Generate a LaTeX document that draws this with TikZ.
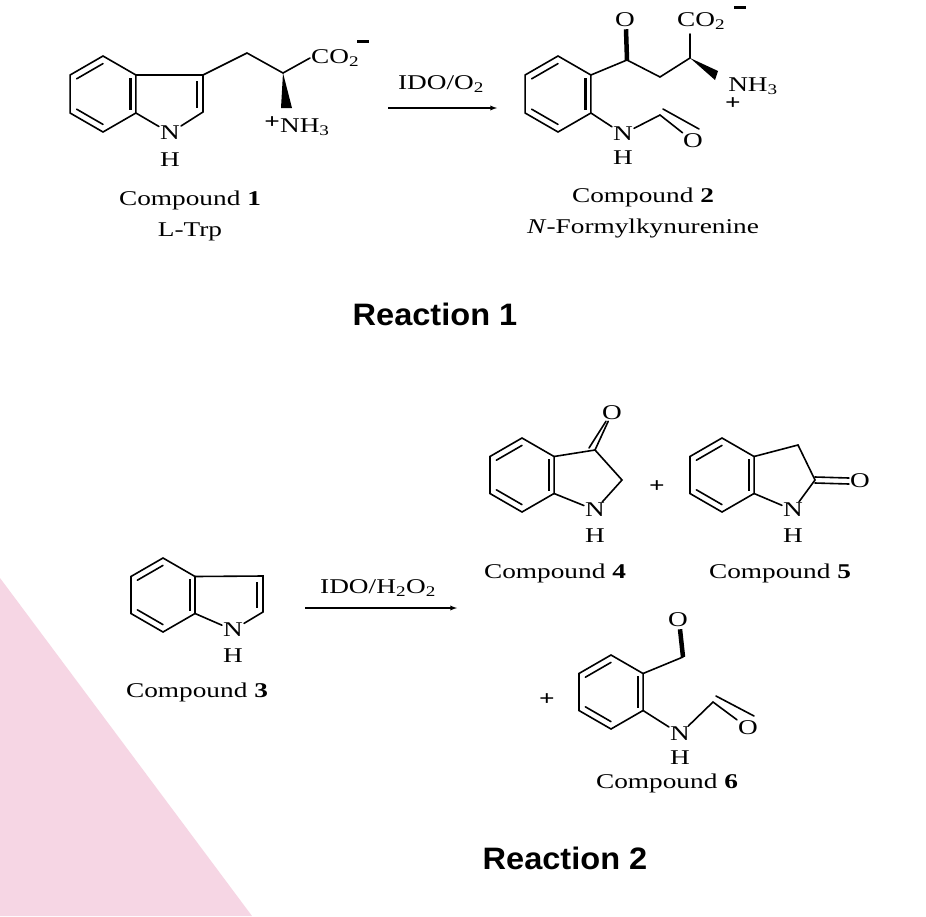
\documentclass[tikz,border=0pt]{standalone}
\usepackage{fontspec}
\setmainfont{Liberation Serif}
\newfontfamily\widefont[FakeStretch=1.3]{Liberation Serif}
\newfontfamily\rxnfont[FakeStretch=1.05]{Liberation Sans}
\usetikzlibrary{calc}
\definecolor{pinkbg}{RGB}{246,214,228}
\tikzset{bond/.style={line width=1.6pt,line cap=round},
  atom/.style={inner sep=1pt,font=\widefont\fontsize{21}{21}\selectfont},
  lab/.style={font=\widefont\fontsize{21}{31}\selectfont,align=center},
  rxn/.style={font=\rxnfont\bfseries\fontsize{31}{31}\selectfont},
  wedge/.style={fill=black}}
\newcommand{\benzring}[4]{% name, cx, cy, s
  \coordinate (#1c) at (#2,#3);
  \foreach \i/\a in {1/90,2/150,3/210,4/270,5/330,6/30}{\coordinate (#1v\i) at ($(#1c)+(\a:#4)$);}
  \draw[bond] (#1v1)--(#1v2)--(#1v3)--(#1v4)--(#1v5)--(#1v6)--cycle;
  \draw[bond] ($(#1c)!0.8!(#1v1)$)--($(#1c)!0.8!(#1v2)$);
  \draw[bond] ($(#1c)!0.8!(#1v3)$)--($(#1c)!0.8!(#1v4)$);
  \draw[line width=2.6pt] ($(#1c)!0.84!(#1v5)$)--($(#1c)!0.84!(#1v6)$);
}
\begin{document}
\begin{tikzpicture}[x=1pt,y=-1pt]
\fill[white] (0,0) rectangle (926,916);
\useasboundingbox (0,0) rectangle (926,916);
\fill[pinkbg] (0,578) -- (0,916) -- (252,916) -- cycle;
% ---- Compound 1
\benzring{a}{103}{94}{38}
\coordinate (a3) at (203,75); \coordinate (a2) at (203,112);
\node[atom] (aN) at (170,133) {N}; \node[atom] (aH) at (170,160) {H};
\draw[bond] (av5)--(a3)--(a2)--(aN)--(av6);
\draw[line width=2.6pt] ($(a3)+(-6,6)$)--($(a2)+(-6,-4)$);
\coordinate (ach) at (247,53); \coordinate (aca) at (283,73);
\node[atom,anchor=west] (aco) at (310,58) {CO\textsubscript{2}};
\draw[bond] (a3)--(ach)--(aca)--(aco.west);
\draw[line width=3pt] (357,41)--(369,41);
\fill[wedge] (aca)--(281,108)--(292,108)--cycle;
\node[atom] (anh) at (297,126) {\raisebox{4pt}{\textbf{+}}NH\textsubscript{3}};
\node[lab] (l1) at (190,216) {Compound \textbf{1}\\L-Trp};
% arrow 1
\node[atom] (ar1l) at (441,84) {IDO/O\textsubscript{2}};
\coordinate (ar1a) at (388,108); \coordinate (ar1b) at (497,108);
\draw[line width=1.3pt,-latex] (ar1a)--(ar1b);
% ---- Compound 2
\benzring{b}{558}{94}{38}
\coordinate (bk) at (627,60); \node[atom] (bO) at (625,20) {O};
\draw[bond] (bv5)--(bk);
\draw[line width=4.5pt] (bk)--($(bO.south)+(1,1)$);
\coordinate (bch) at (660,77); \coordinate (bca) at (690,58);
\draw[bond] (bk)--(bch)--(bca);
\node[atom,anchor=west] (bco) at (676,21) {CO\textsubscript{2}};
\draw[bond] (bca)--(690,34);
\draw[line width=3pt] (734,7)--(746,7);
\fill[wedge] (bca)--(718,71)--(715,80)--cycle;
\node[atom] (bnh) at (753,86) {NH\textsubscript{3}};
\node[atom] (bplus) at (733,104) {\textbf{+}};
\node[atom] (bN) at (623,134) {N}; \node[atom] (bH) at (623,158) {H};
\coordinate (bf) at (660,115); \node[atom] (bO2) at (693,141) {O};
\draw[bond] (bv6)--(bN)--(bf)--(bO2);
\draw[bond] ($(bf)+(3,-6)$)--($(bO2)+(6,-12)$);
\node[lab] (l2) at (643,213) {Compound \textbf{2}\\\textit{N}-Formylkynurenine};
\node[rxn] (r1) at (435,314) {Reaction 1};
% ---- Compound 3
\benzring{c}{163}{595}{37}
\coordinate (c3) at (263,576); \coordinate (c2) at (263,612);
\node[atom] (cN) at (233,630) {N}; \node[atom] (cH) at (233,656) {H};
\draw[bond] (cv5)--(c3)--(c2)--(cN)--(cv6);
\draw[line width=2.6pt] ($(c3)+(-6,6)$)--($(c2)+(-6,-4)$);
\node[lab] (l3) at (197,692) {Compound \textbf{3}};
\node[atom] (ar2l) at (378,588) {IDO/H\textsubscript{2}O\textsubscript{2}};
\coordinate (ar2a) at (305,608); \coordinate (ar2b) at (457,608);
\draw[line width=1.3pt,-latex] (ar2a)--(ar2b);
% ---- Compound 4
\benzring{d}{522}{475}{37}
\coordinate (d3) at (595,450); \coordinate (d2) at (622,480);
\node[atom] (dO) at (612,413) {O};
\node[atom] (dN) at (595,510) {N}; \node[atom] (dH) at (595,536) {H};
\draw[bond] (dv5)--(d3)--(d2)--(dN)--(dv6);
\draw[bond] (d3)--(dO);
\draw[bond] ($(d3)+(-6,-2)$)--($(dO.south)+(-6,0)$);
\node[lab] (l4) at (555,573) {Compound \textbf{4}};
\node[atom] (p1) at (657,487) {\textbf{+}};
% ---- Compound 5
\benzring{e}{722}{475}{37}
\coordinate (e3) at (798,445); \coordinate (e2) at (815,480);
\node[atom] (eO) at (860,481) {O};
\node[atom] (eN) at (793,510) {N}; \node[atom] (eH) at (793,536) {H};
\draw[bond] (ev5)--(e3)--(e2)--(eN)--(ev6);
\draw[bond] ($(e2)+(0,-3)$)--($(eO.west)+(0,-3)$);
\draw[bond] ($(e2)+(0,3)$)--($(eO.west)+(0,3)$);
\node[lab] (l5) at (780,573) {Compound \textbf{5}};
% ---- Compound 6
\node[atom] (p2) at (547,700) {\textbf{+}};
\benzring{f}{611}{692}{37}
\coordinate (fk) at (683,657); \node[atom] (fO) at (678,620) {O};
\draw[bond] (fv5)--(fk);
\draw[line width=4.5pt] (fk)--($(fO.south)+(2,1)$);
\node[atom] (fN) at (680,734) {N}; \node[atom] (fH) at (680,758) {H};
\coordinate (ff) at (713,702); \node[atom] (fO2) at (748,728) {O};
\draw[bond] (fv6)--(fN)--(ff)--(fO2);
\draw[bond] ($(ff)+(3,-6)$)--($(fO2)+(6,-12)$);
\node[lab] (l6) at (667,783) {Compound \textbf{6}};
\node[rxn] (r2) at (565,858) {Reaction 2};
\end{tikzpicture}
\end{document}
